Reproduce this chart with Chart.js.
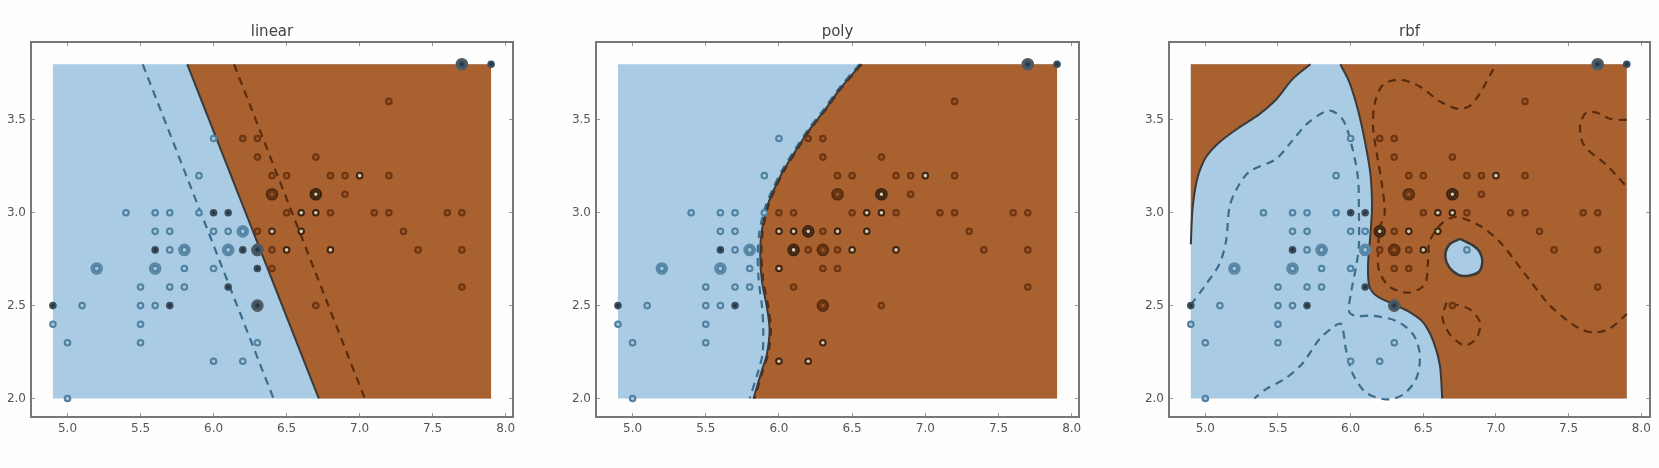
<!DOCTYPE html>
<html>
<head>
<meta charset="utf-8">
<title>linear poly rbf</title>
<script src="https://cdn.jsdelivr.net/npm/chart.js@4/dist/chart.umd.js"></script>
<style>
  html, body { margin: 0; padding: 0; background: #fefefe; overflow: hidden; }
  body { width: 1659px; height: 468px; position: relative; }
  canvas { position: absolute; top: 0; filter: blur(0.6px); }
</style>
</head>
<body>
<canvas id="panel-linear" width="518" height="468" style="left:0"></canvas>
<canvas id="panel-poly" width="519" height="468" style="left:565px"></canvas>
<canvas id="panel-rbf" width="517" height="468" style="left:1138px"></canvas>
<script>
const xTicks = [5.0, 5.5, 6.0, 6.5, 7.0, 7.5, 8.0];
const yTicks = [2.0, 2.5, 3.0, 3.5];

// samples of the blue class
const bluePoints = [
  [6.0, 3.4], [5.9, 3.2], [7.0, 3.2], [6.7, 3.1], [5.4, 3.0], [5.6, 3.0], [5.7, 3.0], [5.9, 3.0],
  [6.6, 3.0], [6.7, 3.0], [5.6, 2.9], [5.7, 2.9], [6.0, 2.9], [6.1, 2.9], [6.2, 2.9], [6.4, 2.9],
  [6.6, 2.9], [5.7, 2.8], [5.8, 2.8], [6.1, 2.8], [6.5, 2.8], [6.8, 2.8], [5.2, 2.7], [5.6, 2.7],
  [5.8, 2.7], [6.0, 2.7], [5.5, 2.6], [5.7, 2.6], [5.8, 2.6], [5.1, 2.5], [5.5, 2.5], [5.6, 2.5],
  [4.9, 2.4], [5.5, 2.4], [5.0, 2.3], [5.5, 2.3], [6.3, 2.3], [6.0, 2.2], [6.2, 2.2], [5.0, 2.0]
];
// samples of the brown class
const brownPoints = [
  [7.7, 3.8], [7.9, 3.8], [7.2, 3.6], [6.2, 3.4], [6.3, 3.4], [6.3, 3.3], [6.7, 3.3], [6.4, 3.2],
  [6.5, 3.2], [6.8, 3.2], [6.9, 3.2], [7.2, 3.2], [6.4, 3.1], [6.9, 3.1], [6.0, 3.0], [6.1, 3.0],
  [6.5, 3.0], [6.8, 3.0], [7.1, 3.0], [7.2, 3.0], [7.6, 3.0], [7.7, 3.0], [6.3, 2.9], [7.3, 2.9],
  [5.6, 2.8], [6.2, 2.8], [6.3, 2.8], [6.4, 2.8], [7.4, 2.8], [7.7, 2.8], [6.3, 2.7], [6.4, 2.7],
  [6.1, 2.6], [7.7, 2.6], [4.9, 2.5], [5.7, 2.5], [6.3, 2.5], [6.7, 2.5]
];
// samples drawn with the larger ring
const blueHeavy = [[6.7, 3.1], [6.2, 2.9], [5.8, 2.8], [6.1, 2.8], [5.2, 2.7], [5.6, 2.7]];
const brownHeavy = [[7.7, 3.8], [6.4, 3.1], [6.3, 2.8], [6.3, 2.5]];

const meshRect = [[4.9, 2.0], [7.9, 2.0], [7.9, 3.8], [4.9, 3.8], [4.9, 2.0]];
const rightCorners = [[7.9, 2.0], [7.9, 3.8]];
const topLeftCorner = [[4.9, 3.8]];

const linearBoundary = [[5.82, 3.8], [6.72, 2.0]];
const linearMarginBlue = [[5.515, 3.8], [6.41, 2.0]];
const linearMarginBrown = [[6.14, 3.8], [7.035, 2.0]];

const polyBoundary = [
  [6.56, 3.8], [6.42, 3.67], [6.31, 3.55], [6.215, 3.455], [6.124, 3.347], [6.032, 3.23], [5.963, 3.12],
  [5.918, 3.03], [5.883, 2.905], [5.872, 2.78], [5.883, 2.635], [5.918, 2.49], [5.936, 2.37],
  [5.918, 2.24], [5.883, 2.15], [5.826, 2.0]
];
const polyMarginBlue = [
  [6.55, 3.8], [6.41, 3.67], [6.30, 3.55], [6.205, 3.455], [6.114, 3.347], [6.022, 3.23], [5.953, 3.12],
  [5.906, 3.03], [5.868, 2.905], [5.855, 2.78], [5.862, 2.635], [5.885, 2.49], [5.893, 2.37],
  [5.888, 2.24], [5.86, 2.15], [5.8, 2.0]
];
const polyMarginBrown = [
  [6.565, 3.8], [6.425, 3.67], [6.315, 3.55], [6.22, 3.455], [6.13, 3.347], [6.038, 3.23], [5.97, 3.12],
  [5.925, 3.03], [5.89, 2.905], [5.88, 2.78], [5.893, 2.635], [5.928, 2.49], [5.945, 2.37],
  [5.926, 2.24], [5.89, 2.15], [5.834, 2.0]
];

const rbfBoundaryLeft = [
  [5.724, 3.8], [5.6, 3.72], [5.487, 3.61], [5.37, 3.53], [5.234, 3.46], [5.097, 3.38], [5.005, 3.3],
  [4.947, 3.19], [4.913, 3.03], [4.9, 2.83]
];
const rbfBoundaryMain = [
  [5.929, 3.8], [5.993, 3.7], [6.05, 3.555], [6.097, 3.39], [6.136, 3.21], [6.147, 3.03], [6.136, 2.886],
  [6.12, 2.724], [6.126, 2.615], [6.166, 2.56], [6.269, 2.516], [6.395, 2.47], [6.499, 2.41],
  [6.568, 2.31], [6.614, 2.18], [6.63, 2.0]
];
const rbfIsland = [
  [6.752, 2.859], [6.844, 2.823], [6.89, 2.787], [6.906, 2.733], [6.878, 2.679], [6.775, 2.659],
  [6.706, 2.684], [6.66, 2.733], [6.653, 2.787], [6.683, 2.832], [6.752, 2.859]
];
const rbfMarginBlue = [
  [4.9, 2.504], [5.005, 2.615], [5.097, 2.724], [5.143, 2.85], [5.166, 3.03], [5.21, 3.12], [5.3, 3.22],
  [5.487, 3.29], [5.6, 3.39], [5.715, 3.49], [5.855, 3.55], [5.947, 3.5], [6.005, 3.37], [6.05, 3.19],
  [6.057, 2.995], [6.057, 2.83], [6.04, 2.72], [6.005, 2.58], [5.989, 2.47], [6.03, 2.445],
  [6.154, 2.445], [6.315, 2.417], [6.43, 2.345], [6.476, 2.237], [6.453, 2.11], [6.36, 2.02],
  [6.246, 1.995], [6.108, 2.03], [6.016, 2.13], [5.97, 2.255], [5.936, 2.4], [5.89, 2.39],
  [5.786, 2.32], [5.67, 2.19], [5.556, 2.11], [5.418, 2.05], [5.338, 2.0]
];
const rbfMarginBrownMain = [
  [6.982, 3.774], [6.89, 3.644], [6.82, 3.576], [6.74, 3.56], [6.614, 3.6], [6.476, 3.68], [6.338, 3.717],
  [6.223, 3.69], [6.166, 3.59], [6.154, 3.465], [6.184, 3.3], [6.218, 3.14], [6.234, 2.995], [6.2, 2.92],
  [6.19, 2.796], [6.195, 2.69], [6.27, 2.6], [6.407, 2.57], [6.51, 2.615], [6.533, 2.74], [6.545, 2.85],
  [6.637, 2.95], [6.729, 2.977], [6.89, 2.93], [7.03, 2.84], [7.2, 2.67], [7.36, 2.51], [7.49, 2.42],
  [7.58, 2.375], [7.67, 2.355], [7.78, 2.375], [7.9, 2.455]
];
const rbfMarginBrownLoop = [
  [6.66, 2.516], [6.632, 2.435], [6.683, 2.345], [6.786, 2.285], [6.867, 2.327], [6.89, 2.41],
  [6.82, 2.48], [6.706, 2.51]
];
const rbfMarginBrownRight = [
  [7.9, 3.5], [7.79, 3.505], [7.69, 3.54], [7.62, 3.54], [7.58, 3.475], [7.59, 3.39], [7.63, 3.34],
  [7.75, 3.265], [7.83, 3.2], [7.9, 3.14]
];

const BLUE = '#a9cbe3';
const BROWN = '#aa6130';
const SOLID = '#3a3a3a';
const DASH_BLUE = '#3c6c8e';
const DASH_BROWN = '#5a2c0e';
const FRAME = '#777777';
const TEXT = '#555555';

const toXY = list => list.map(p => ({ x: p[0], y: p[1] }));

function inside(pt, poly) {
  let hit = false;
  for (let i = 0, j = poly.length - 1; i < poly.length; j = i++) {
    const a = poly[i], b = poly[j];
    if ((a[1] > pt.y) !== (b[1] > pt.y) && pt.x < (b[0] - a[0]) * (pt.y - a[1]) / (b[1] - a[1]) + a[0]) hit = !hit;
  }
  return hit;
}

function area(points, color) {
  return { data: toXY(points), showLine: true, fill: 'shape', backgroundColor: color, borderWidth: 0, pointRadius: 0, tension: 0 };
}

function curve(points, color, width, dashed, tension) {
  return {
    data: toXY(points), showLine: true, fill: false, borderColor: color, borderWidth: width,
    borderDash: dashed ? [8, 6] : [], pointRadius: 0, tension: tension
  };
}

function markers(points, radius, borderWidth, colors, onBrown) {
  // colours depend on what the sample sits on
  const pick = (ctx, i) => colors[onBrown(ctx.raw) ? 1 : 0][i];
  return {
    data: toXY(points), showLine: false, pointRadius: radius, pointHoverRadius: radius,
    pointBorderWidth: borderWidth, pointBackgroundColor: ctx => pick(ctx, 0), pointBorderColor: ctx => pick(ctx, 1)
  };
}

function buildPanel(canvasId, title, areaWidth, xMax, brownAreas, blueAreas, lines) {
  const onBrown = p => brownAreas.some(a => inside(p, a)) && !blueAreas.some(a => inside(p, a));
  const layers = [
    area(meshRect, BLUE),
    ...brownAreas.map(a => area(a, BROWN)),
    ...blueAreas.map(a => area(a, BLUE)),
    ...lines,
    markers(blueHeavy, 5.2, 2.2, [['#7098b4', '#5a88a7'], ['#8a4e22', '#3d2412']], onBrown),
    markers(brownHeavy, 5.2, 2.2, [['#5f6a70', '#4f5a62'], ['#7a4318', '#5a2c0e']], onBrown),
    markers(bluePoints, 2.8, 2, [['#a2c8df', '#4f80a0'], ['#d8caaa', '#3d2412']], onBrown),
    markers(brownPoints, 2.8, 2, [['#2a3540', '#3a5060'], ['#9c5526', '#6b3512']], onBrown)
  ];
  // chart.js paints the first dataset last
  layers.reverse();

  const noPad = s => { s.paddingLeft = s.paddingRight = s.paddingTop = s.paddingBottom = 0; };
  const commonX = { type: 'linear', min: 4.75, max: xMax, afterBuildTicks: s => { s.ticks = xTicks.map(v => ({ value: v })); } };
  const commonY = { type: 'linear', min: 1.9, max: 3.92, afterBuildTicks: s => { s.ticks = yTicks.map(v => ({ value: v })); } };
  const grid = { drawOnChartArea: false, tickLength: -4, tickColor: '#9a9a9a', tickWidth: 1 };
  const border = { display: true, color: FRAME, width: 2 };
  const labels = {
    color: TEXT, padding: 9, maxRotation: 0, autoSkip: false,
    font: { family: 'DejaVu Sans', size: 12 }, callback: v => v.toFixed(1)
  };

  new Chart(document.getElementById(canvasId), {
    type: 'scatter',
    data: { datasets: layers },
    options: {
      responsive: false,
      animation: false,
      events: [],
      layout: { autoPadding: false, padding: { right: document.getElementById(canvasId).width - 31 - areaWidth } },
      plugins: {
        legend: { display: false },
        tooltip: { enabled: false },
        title: {
          display: true, text: title, fullSize: false, color: '#444444',
          font: { family: 'DejaVu Sans', size: 15, weight: 'normal' }, padding: { top: 23, bottom: 1 }
        }
      },
      scales: {
        x: { ...commonX, position: 'bottom', grid, border, ticks: labels, afterFit: s => { s.height = 51; noPad(s); } },
        y: { ...commonY, position: 'left', grid, border, ticks: labels, afterFit: s => { s.width = 31; noPad(s); } },
        xTop: { ...commonX, position: 'top', grid, border, ticks: { display: false }, afterFit: s => { s.height = 0; noPad(s); } },
        yRight: { ...commonY, position: 'right', grid, border, ticks: { display: false }, afterFit: s => { s.width = 0; noPad(s); } }
      }
    }
  });
}

buildPanel('panel-linear', 'linear', 482, 8.05,
  [[...linearBoundary, ...rightCorners]], [],
  [
    curve(linearMarginBlue, DASH_BLUE, 2.2, true, 0),
    curve(linearMarginBrown, DASH_BROWN, 2.2, true, 0),
    curve(linearBoundary, SOLID, 2, false, 0)
  ]);

buildPanel('panel-poly', 'poly', 483, 8.05,
  [[...polyBoundary, ...rightCorners]], [],
  [
    curve(polyMarginBlue, DASH_BLUE, 2.2, true, 0.3),
    curve(polyMarginBrown, DASH_BROWN, 2.2, true, 0.3),
    curve(polyBoundary, SOLID, 2, false, 0.3)
  ]);

buildPanel('panel-rbf', 'rbf', 481, 8.06,
  [[...rbfBoundaryMain, ...rightCorners], [...rbfBoundaryLeft, ...topLeftCorner]], [rbfIsland],
  [
    curve(rbfMarginBlue, DASH_BLUE, 2.2, true, 0.3),
    curve(rbfMarginBrownMain, DASH_BROWN, 2.2, true, 0.3),
    curve(rbfMarginBrownLoop, DASH_BROWN, 2.2, true, 0.3),
    curve(rbfMarginBrownRight, DASH_BROWN, 2.2, true, 0.3),
    curve(rbfBoundaryLeft, SOLID, 2, false, 0.3),
    curve(rbfBoundaryMain, SOLID, 2, false, 0.3),
    curve(rbfIsland, SOLID, 2.5, false, 0.3)
  ]);
</script>
</body>
</html>
